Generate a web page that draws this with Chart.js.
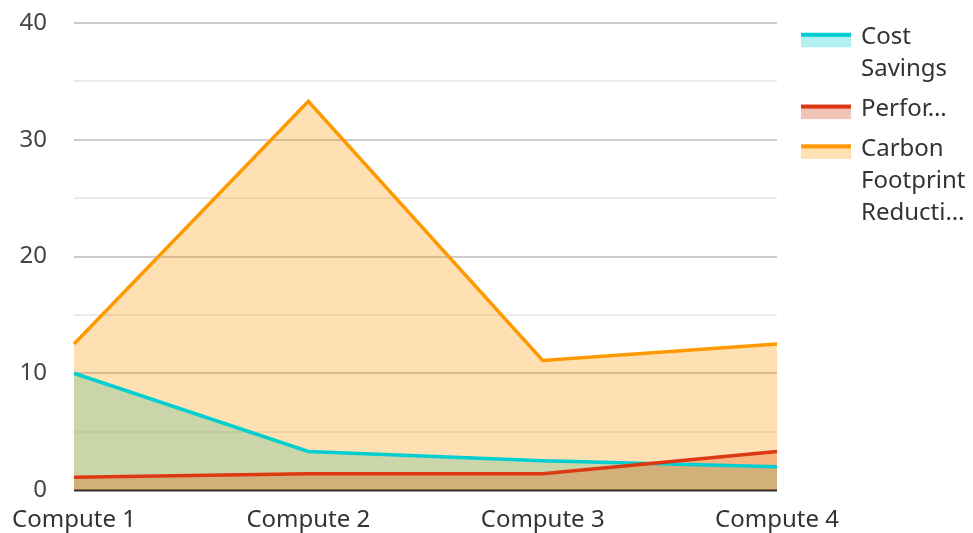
<!DOCTYPE html>
<html>
<head>
<meta charset="utf-8">
<script src="https://cdn.jsdelivr.net/npm/chart.js@4.4.1/dist/chart.umd.min.js"></script>
<style>
  html, body { margin: 0; padding: 0; background: #fff; }
  #wrap { width: 973px; height: 533px; }
</style>
</head>
<body>
<div id="wrap"><canvas id="myAreaChart" width="973" height="533"></canvas></div>
<script>
// data
var categories = ['Compute 1', 'Compute 2', 'Compute 3', 'Compute 4'];
var costSavings = [10, 3.3, 2.5, 2.0];
var performance = [1.1, 1.4, 1.4, 3.3];
var carbonReduction = [12.5, 33.3, 11.1, 12.5];
var seriesNames = ['Cost Savings', 'Performance', 'Carbon Footprint Reduction'];
var yTicks = [0, 10, 20, 30, 40];

var lineColors = ['#00CED1', '#DC3912', '#FF9900'];
var fillColors = ['rgba(0,206,209,0.3)', 'rgba(220,57,18,0.3)', 'rgba(255,153,0,0.3)'];
var FONT = "'Noto Sans', 'Open Sans', sans-serif";

// wrap legend text into lines, cut a word that does not fit with an ellipsis
function wrapLegend(ctx, text, maxW) {
  var words = text.split(' ');
  var lines = [];
  var cur = '';
  for (var i = 0; i < words.length; i++) {
    var test = cur ? cur + ' ' + words[i] : words[i];
    if (ctx.measureText(test).width <= maxW) {
      cur = test;
      continue;
    }
    if (cur) { lines.push(cur); cur = ''; }
    if (ctx.measureText(words[i]).width <= maxW) {
      cur = words[i];
    } else {
      var w = words[i];
      while (w.length > 1 && ctx.measureText(w + '…').width > maxW) w = w.slice(0, -1);
      lines.push(w + '…');
      return lines;
    }
  }
  if (cur) lines.push(cur);
  return lines;
}

var sideLegend = {
  id: 'sideLegend',
  afterDraw: function (chart) {
    var ctx = chart.ctx;
    ctx.save();
    ctx.font = '24px ' + FONT;
    ctx.textAlign = 'left';
    ctx.textBaseline = 'alphabetic';
    var base = 44.3;
    chart.data.datasets.forEach(function (ds) {
      var lines = wrapLegend(ctx, ds.label, 110);
      var top = base - 11.5;
      ctx.fillStyle = ds.backgroundColor;
      ctx.fillRect(801, top, 50, 14.5);
      ctx.fillStyle = ds.borderColor;
      ctx.fillRect(801, top, 50, 4);
      ctx.fillStyle = '#333';
      lines.forEach(function (ln, j) {
        ctx.fillText(ln, 861, base + j * 32);
      });
      base += (lines.length - 1) * 32 + 39.8;
    });
    ctx.restore();
  }
};

// order: lower number is painted later (on top)
function makeSet(idx, values, order) {
  return {
    label: seriesNames[idx],
    data: values,
    order: order,
    borderColor: lineColors[idx],
    backgroundColor: fillColors[idx],
    borderWidth: 3.5,
    pointRadius: 0,
    pointHoverRadius: 0,
    tension: 0,
    fill: 'origin'
  };
}

var ctx = document.getElementById('myAreaChart').getContext('2d');
var myAreaChart = new Chart(ctx, {
  type: 'line',
  data: {
    labels: categories,
    datasets: [
      makeSet(0, costSavings, 2),
      makeSet(1, performance, 1),
      makeSet(2, carbonReduction, 0)
    ]
  },
  plugins: [sideLegend],
  options: {
    responsive: false,
    animation: false,
    layout: { padding: { top: 23, right: 196, bottom: 0, left: 0 } },
    plugins: {
      legend: { display: false },
      tooltip: { enabled: false },
      filler: { drawTime: 'beforeDatasetsDraw' }
    },
    scales: {
      x: {
        offset: false,
        grid: { display: false, drawTicks: false },
        border: { display: false },
        ticks: {
          color: '#333',
          font: { family: FONT, size: 24 },
          padding: 16,
          maxRotation: 0,
          autoSkip: false
        },
        afterFit: function (scale) {
          scale.height = 43;
          scale.paddingLeft = 0;
          scale.paddingRight = 0;
        }
      },
      y: {
        min: 0,
        max: 40,
        border: { display: false },
        grid: {
          drawTicks: false,
          color: function (c) {
            var v = c.tick.value;
            if (v === 0) return '#333';
            return yTicks.indexOf(v) >= 0 ? '#cccccc' : '#ebebeb';
          },
          lineWidth: function (c) { return c.tick.value === 0 ? 2.5 : 2; }
        },
        ticks: {
          stepSize: 5,
          color: '#444',
          font: { family: FONT, size: 24 },
          padding: 27,
          callback: function (v) { return yTicks.indexOf(v) >= 0 ? v : ''; }
        },
        afterFit: function (scale) {
          scale.width = 74;
          scale.paddingTop = 0;
          scale.paddingBottom = 0;
        }
      }
    }
  }
});
</script>
</body>
</html>
